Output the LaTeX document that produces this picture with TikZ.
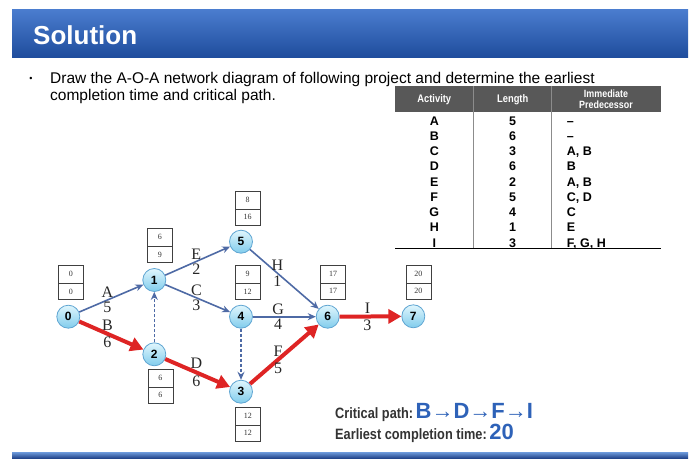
\documentclass[tikz,border=0pt]{standalone}
\usepackage{fontspec}
\setmainfont{Liberation Sans}
\newfontfamily\narrowsans[FakeStretch=0.85]{Liberation Sans}
\newfontfamily\plainsans{Liberation Sans}
\newfontfamily\labelserif{Liberation Serif}
\usetikzlibrary{arrows.meta,shapes.multipart}

\definecolor{bartop}{RGB}{74,124,206}
\definecolor{barbottom}{RGB}{30,76,156}
\definecolor{edgeblue}{RGB}{78,106,165}
\definecolor{critred}{RGB}{222,36,36}
\definecolor{critblue}{RGB}{46,98,184}
\definecolor{headgray}{RGB}{88,88,88}
\definecolor{ringblue}{RGB}{95,165,210}

\tikzset{
  event/.style={circle, minimum size=23pt, inner sep=0pt, draw=ringblue, line width=0.8pt,
    top color={rgb,255:red,224;green,246;blue,253}, bottom color={rgb,255:red,128;green,204;blue,236},
    font=\fontsize{12}{12}\selectfont\bfseries},
  timebox/.style={draw=black!75, line width=0.6pt, rectangle split, rectangle split parts=2,
    minimum width=25pt, inner xsep=2pt, inner ysep=5pt, text height=6pt, text depth=1.5pt,
    font=\labelserif\fontsize{8}{8}\selectfont, text=black!80},
  activity/.style={edgeblue, line width=1.6pt, -{Stealth[length=8pt,width=7pt]}},
  critical/.style={critred, line width=4pt, -{Triangle[length=13pt,width=14pt]}},
  dummy/.style={edgeblue, line width=1.4pt, dash pattern=on 3pt off 2pt, -{Stealth[length=8pt,width=7pt]}},
  elabel/.style={font=\labelserif\fontsize{16}{16}\selectfont, inner sep=1.5pt, text=black!85},
  tcell/.style={font=\fontsize{12.5}{12.5}\selectfont\bfseries, inner sep=0pt},
  thead/.style={font=\narrowsans\bfseries\fontsize{11}{11}\selectfont, text=white, align=center, inner sep=0pt}
}

\begin{document}
\begin{tikzpicture}[x=1pt, y=-1pt]
	\useasboundingbox (0,0) rectangle (700,462);
	% title bar
	\fill[top color=bartop, bottom color=barbottom] (12,10) rectangle (688,58);
	\node[anchor=base west, text=white, inner sep=0pt, font=\fontsize{26}{26}\selectfont\bfseries] (title) at (33,45) {Solution};
	\node[anchor=base, inner sep=0pt, font=\fontsize{9}{9}\selectfont] (bullet) at (31,82) {•};
	\node[anchor=base west, inner sep=0pt, font=\fontsize{15.5}{15.5}\selectfont] (task1) at (50,84)
		{Draw the A-O-A network diagram of following project and determine the earliest};
	\node[anchor=base west, inner sep=0pt, font=\fontsize{15.5}{15.5}\selectfont] (task2) at (50,101)
		{completion time and critical path.};

	% table
	\fill[headgray] (395,86) rectangle (661,112);
	\draw[black!45, line width=0.5pt] (473.5,86) -- (473.5,248) (551.7,86) -- (551.7,248);
	\draw[black, line width=1.5pt] (395,248.5) -- (661,248.5);
	\node[thead] (hact) at (434.3,100) {Activity};
	\node[thead] (hlen) at (512.7,100) {Length};
	\node[thead, font=\narrowsans\bfseries\fontsize{10.5}{11}\selectfont] (hpre) at (606,99.5) {Immediate\\Predecessor};
	\foreach \act/\len/\pre [count=\i from 0] in {A/5/–, B/6/–, C/3/{A, B}, D/6/B, E/2/{A, B}, F/5/{C, D}, G/4/C, H/1/E, I/3/{F, G, H}} {
		\node[tcell, anchor=base] (act\i) at (434.3,125.2+15.25*\i) {\act};
		\node[tcell, anchor=base] (len\i) at (512.7,125.2+15.25*\i) {\len};
		\node[tcell, anchor=base west] (pre\i) at (566.7,125.2+15.25*\i) {\pre};
	}

	% events
	\node[event] (n0) at (68.3,316.7) {0};
	\node[event] (n1) at (154.3,280) {1};
	\node[event] (n2) at (154.3,354.3) {2};
	\node[event] (n3) at (241,391.7) {3};
	\node[event] (n4) at (241,316.7) {4};
	\node[event] (n5) at (241,241.7) {5};
	\node[event] (n6) at (327.7,316.7) {6};
	\node[event] (n7) at (413.3,316.3) {7};

	% earliest / latest times
	\node[timebox] (t0) at (70.8,282.5) {0 \nodepart{two} 0};
	\node[timebox] (t1) at (159.8,245.5) {6 \nodepart{two} 9};
	\node[timebox] (t2) at (160.3,386.2) {6 \nodepart{two} 6};
	\node[timebox] (t3) at (247.8,424.2) {12 \nodepart{two} 12};
	\node[timebox] (t4) at (247.5,282.5) {9 \nodepart{two} 12};
	\node[timebox] (t5) at (247.5,208) {8 \nodepart{two} 16};
	\node[timebox] (t6) at (333,282.2) {17 \nodepart{two} 17};
	\node[timebox] (t7) at (418.3,282) {20 \nodepart{two} 20};

	% activities
	\draw[activity] (n0) to node[elabel, above, pos=0.44] {A} node[elabel, below, pos=0.44] {5} (n1);
	\draw[critical] (n0) to node[elabel, above, pos=0.44] {B} node[elabel, below, pos=0.44] {6} (n2);
	\draw[activity] (n1) to node[elabel, above, pos=0.48] {E} node[elabel, below, pos=0.48] {2} (n5);
	\draw[activity] (n1) to node[elabel, above, pos=0.48] {C} node[elabel, below, pos=0.48] {3} (n4);
	\draw[dummy] (n2) to (n1);
	\draw[critical] (n2) to node[elabel, above, pos=0.48] {D} node[elabel, below, pos=0.48] {6} (n3);
	\draw[dummy] (n4) to (n3);
	\draw[activity] (n5) to node[elabel, above, pos=0.40] {H} node[elabel, below, pos=0.40] {1} (n6);
	\draw[activity] (n4) to node[elabel, above, pos=0.40] {G} node[elabel, below, pos=0.40] {4} (n6);
	\draw[critical] (n3) to node[elabel, above, pos=0.41] {F} node[elabel, below, pos=0.41] {5} (n6);
	\draw[critical] (n6) to node[elabel, above, pos=0.45] {I} node[elabel, below, pos=0.45] {3} (n7);

	% result
	\node[anchor=base west, inner sep=0pt, text=black!80, font=\narrowsans\bfseries\fontsize{15}{15}\selectfont] (cpath) at (335,418.5)
		{Critical path:\,{\plainsans\bfseries\color{critblue}\fontsize{22}{22}\selectfont B→D→F→I}};
	\node[anchor=base west, inner sep=0pt, text=black!80, font=\narrowsans\bfseries\fontsize{15}{15}\selectfont] (ectime) at (335,439.5)
		{Earliest completion time:\,{\plainsans\bfseries\color{critblue}\fontsize{22}{22}\selectfont 20}};

	% bottom bar
	\fill[top color={rgb,255:red,110;green,155;blue,220}, bottom color={rgb,255:red,35;green,70;blue,140}] (12,452) rectangle (688,458);
\end{tikzpicture}
\end{document}
